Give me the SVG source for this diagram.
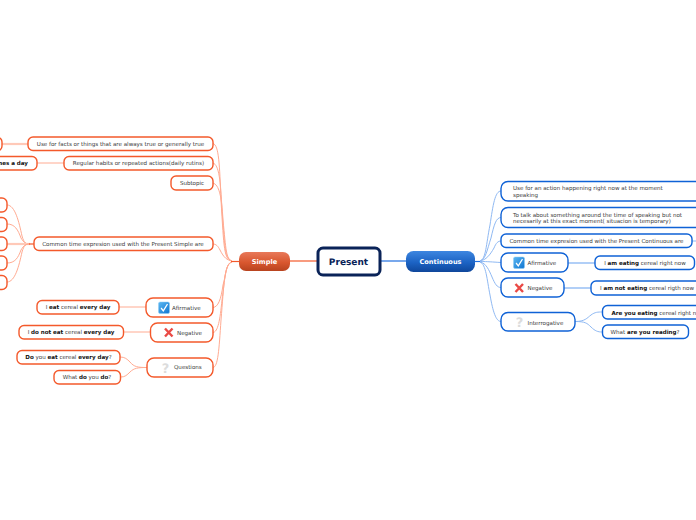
<svg xmlns="http://www.w3.org/2000/svg" width="696" height="520" viewBox="0 0 696 520">
<defs>
<linearGradient id="gs" x1="0" y1="0" x2="0" y2="1"><stop offset="0" stop-color="#e8795a"/><stop offset=".55" stop-color="#d9572f"/><stop offset="1" stop-color="#b8431f"/></linearGradient>
<linearGradient id="gc" x1="0" y1="0" x2="0" y2="1"><stop offset="0" stop-color="#3d86e0"/><stop offset=".55" stop-color="#1c63c4"/><stop offset="1" stop-color="#0f479b"/></linearGradient>
<linearGradient id="gk" x1="0" y1="0" x2="1" y2="1"><stop offset="0" stop-color="#5cb8f2"/><stop offset="1" stop-color="#0f74d0"/></linearGradient>
<g id="check"><rect x="0" y="0" width="11" height="11.5" rx="1.6" fill="url(#gk)" stroke="#8ccbf2" stroke-width=".5"/><path d="M2.6 6 L4.8 8.8 L9 2" fill="none" stroke="#fff" stroke-width="1.3"/></g>
<g id="cross"><path d="M1.5 1.5 L9 9.5 M9 1.5 L1.5 9.5" fill="none" stroke="#ea4a45" stroke-width="2.4"/></g>
</defs>
<style>
text{font-family:"DejaVu Sans",Verdana,sans-serif;font-size:5.55px;fill:#3a3a3a;text-anchor:middle;text-rendering:geometricPrecision}
.b{font-weight:700;fill:#111}
.l{text-anchor:start}
.o rect{fill:#fff;stroke:#f4592b;stroke-width:1.4}
.u rect{fill:#fff;stroke:#0f62d6;stroke-width:1.4}
.cl path{fill:none;stroke:#ffab92;stroke-width:1}
.cr path{fill:none;stroke:#8fb9f3;stroke-width:1}
.cl path.m{stroke:#f4592b;stroke-width:1.2}
.cr path.m{stroke:#1f6fe0;stroke-width:1.2}
.cl path.t{stroke:#ffc9b8;stroke-width:2.2}
.cr path.t{stroke:#a9caf6;stroke-width:1.8}
.q{font-size:13px;fill:#dcdcdc;font-weight:700}
</style>
<rect width="696" height="520" fill="#fff"/>
<g id="connectors">
<g class="cl">
<path d="M232 261C224 259 224 250 221 200C219.500 165 219 145 213 143.500"/>
<path d="M232 261C225 259 225 250 222 210C220.500 180 219 165 213 163"/>
<path d="M232 261C226 259 226 250 223 220C221.500 195 219 185 213 183"/>
<path d="M232 261C227 260 224 258 220 250C218 246 216 244 213 244"/>
<path d="M232 262C226 263 226 275 223 285C221 300 218 307 213 307.500"/>
<path d="M232 262C225 263 225 280 222 300C220 320 218 332 213 332.500"/>
<path d="M232 262C224 264 224 285 221 320C219 350 218 367 213 367.500"/>
<path class="t" d="M2 144H28"/>
<path d="M37 163H64"/>
<path d="M30 244C26 244 24 243 22 236C19 222 15 205 7 205"/>
<path d="M30 244C26 244 24 243 21 238C18 230 15 224 7 224"/>
<path class="t" d="M30 244H7"/>
<path d="M30 244C26 244 24 245 21 250C18 258 15 263 7 263"/>
<path d="M30 244C26 244 24 245 22 252C19 266 15 282 7 282"/>
<path class="m" d="M34 244H29"/>
<path d="M119 307H146"/>
<path d="M124 332H150"/>
<path d="M147 367.500C138 367.500 134 367 130 362C127 359 125 357 120 357"/>
<path d="M147 367.500C138 367.500 134 368 130 372C127 375 125 377 121 377"/>
<path class="m" d="M290 261H317"/>
<path class="m" d="M239 261.500H231"/>
</g>
<g class="cr">
<path class="m" d="M380 261H406"/>
<path class="m" d="M475 261.500H482"/>
<path d="M480 261C486 259 486 245 490 225C493 205 495 191 501 191"/>
<path d="M480 261C486 259 487 250 491 238C494 225 496 217.500 501 217.500"/>
<path d="M480 261C486 260 490 255 494 248C496 243 498 241 501 241"/>
<path d="M480 261.500C488 261.500 492 262 501 262.500"/>
<path d="M480 262C486 263 489 270 492 277C495 284 497 287.500 501 287.500"/>
<path d="M480 262C486 264 487 280 490 295C493 312 496 321.500 501 321.500"/>
<path class="t" d="M568 263H595"/>
<path class="t" d="M564 288H591"/>
<path d="M692 241H696"/>
<path d="M575 321.500C585 321.500 587 318 591 315C595 312 598 312 602 312"/>
<path d="M575 321.500C585 321.500 587 323 591 327C595 331 598 332 602 332"/>
</g>
</g>
<g id="n-present"><rect x="318" y="248" width="62" height="27" rx="5" fill="#fff" stroke="#0a2358" stroke-width="3"/><text x="348.500" y="265" style="font-size:9px;font-weight:700;fill:#0a2358">Present</text></g>
<g id="n-simple"><rect x="239" y="252" width="51" height="19" rx="7" fill="url(#gs)"/><text x="264.500" y="263.500" style="font-size:6.600px;font-weight:700;fill:#fff">Simple</text></g>
<g id="n-continuous"><rect x="406" y="251" width="69" height="21" rx="7.500" fill="url(#gc)"/><text x="440.500" y="263.800" style="font-size:6.600px;font-weight:700;fill:#fff">Continuous</text></g>
<g class="o">
<g id="l1"><rect x="-30" y="137" width="32" height="14" rx="5"/></g>
<g id="l2"><rect x="28" y="137" width="185" height="13.500" rx="5"/><text x="120.500" y="146">Use for facts or things that are always true or generally true</text></g>
<g id="l3"><rect x="-30" y="156.500" width="67" height="13.500" rx="5"/><text x="28" y="165.200" class="b" style="text-anchor:end">times a day</text></g>
<g id="l4"><rect x="64" y="156.500" width="149" height="13.500" rx="5"/><text x="138.500" y="165.200">Regular habits or repeated actions(daily rutins)</text></g>
<g id="l5"><rect x="171" y="176" width="42" height="14" rx="5"/><text x="192" y="185">Subtopic</text></g>
<g id="l6"><rect x="34" y="237" width="179" height="13.500" rx="5"/><text x="123" y="246">Common time expresion used with the Present Simple are</text></g>
<g id="s1"><rect x="-30" y="198" width="37" height="14" rx="5"/></g>
<g id="s2"><rect x="-30" y="217.500" width="37" height="14" rx="5"/></g>
<g id="s3"><rect x="-30" y="237" width="37" height="13.500" rx="5"/></g>
<g id="s4"><rect x="-30" y="256" width="37" height="14" rx="5"/></g>
<g id="s5"><rect x="-30" y="275.500" width="37" height="14" rx="5"/></g>
<g id="l7"><rect x="146" y="298" width="67" height="19" rx="7"/><use href="#check" x="158.500" y="302"/><text x="172" y="309.800" class="l">Afirmative</text></g>
<g id="l8"><rect x="150.500" y="323" width="62.500" height="19" rx="7"/><use href="#cross" x="163.500" y="327"/><text x="177" y="334.800" class="l">Negative</text></g>
<g id="l9"><rect x="147" y="358" width="66" height="19" rx="7"/><text x="165.500" y="372.500" class="q">?</text><text x="174" y="369.300" class="l">Questions</text></g>
<g id="l10"><rect x="37" y="300.500" width="82" height="13.500" rx="5"/><text x="78" y="309.200">I <tspan class="b">eat</tspan> cereal <tspan class="b">every day</tspan></text></g>
<g id="l11"><rect x="19" y="325.500" width="104.500" height="13.500" rx="5"/><text x="71" y="334.200">I <tspan class="b">do not eat</tspan> cereal <tspan class="b">every day</tspan></text></g>
<g id="l12"><rect x="17" y="350.500" width="103" height="13.500" rx="5"/><text x="68.500" y="359.200"><tspan class="b">Do</tspan> you <tspan class="b">eat</tspan> cereal <tspan class="b">every day</tspan>?</text></g>
<g id="l13"><rect x="54" y="370.500" width="66.500" height="13.500" rx="5"/><text x="87" y="379.200">What <tspan class="b">do</tspan> you <tspan class="b">do</tspan>?</text></g>
</g>
<g class="u">
<g id="r1"><rect x="501" y="181.500" width="210" height="19.500" rx="7"/><text x="513" y="190" class="l">Use for an action happening right now at the moment</text><text x="513" y="196.500" class="l">speaking</text></g>
<g id="r2"><rect x="501" y="207.500" width="210" height="20" rx="7"/><text x="513" y="216.500" class="l">To talk about something around the time of speaking but not</text><text x="513" y="222.800" class="l">necesarily at this exact moment( situacion is temporary)</text></g>
<g id="r3"><rect x="501" y="234" width="191" height="13.500" rx="5"/><text x="596.500" y="242.800">Common time expresion used with the Present Continuous are</text></g>
<g id="r4"><rect x="501" y="253" width="67" height="19" rx="7"/><use href="#check" x="513.500" y="257"/><text x="527.500" y="264.800" class="l">Afirmative</text></g>
<g id="r5"><rect x="595" y="256" width="99.500" height="13.500" rx="5"/><text x="645" y="264.800">I <tspan class="b">am eating</tspan> cereal right now</text></g>
<g id="r6"><rect x="501" y="278" width="63" height="19" rx="7"/><use href="#cross" x="514" y="282.500"/><text x="527.500" y="289.800" class="l">Negative</text></g>
<g id="r7"><rect x="591" y="281" width="115" height="14" rx="5"/><text x="600" y="290" class="l">I <tspan class="b">am not eating</tspan> cereal rigth now</text></g>
<g id="r8"><rect x="501" y="312.500" width="74" height="18.500" rx="7"/><text x="519.500" y="327" class="q">?</text><text x="527.500" y="325" class="l">Interrogative</text></g>
<g id="r9"><rect x="602.500" y="305.500" width="110" height="13.500" rx="5"/><text x="611.500" y="314.500" class="l"><tspan class="b">Are you eating</tspan> cereal right now</text></g>
<g id="r10"><rect x="602.500" y="325" width="86" height="13.500" rx="5"/><text x="645" y="334">What <tspan class="b">are you reading</tspan>?</text></g>
</g>
</svg>
